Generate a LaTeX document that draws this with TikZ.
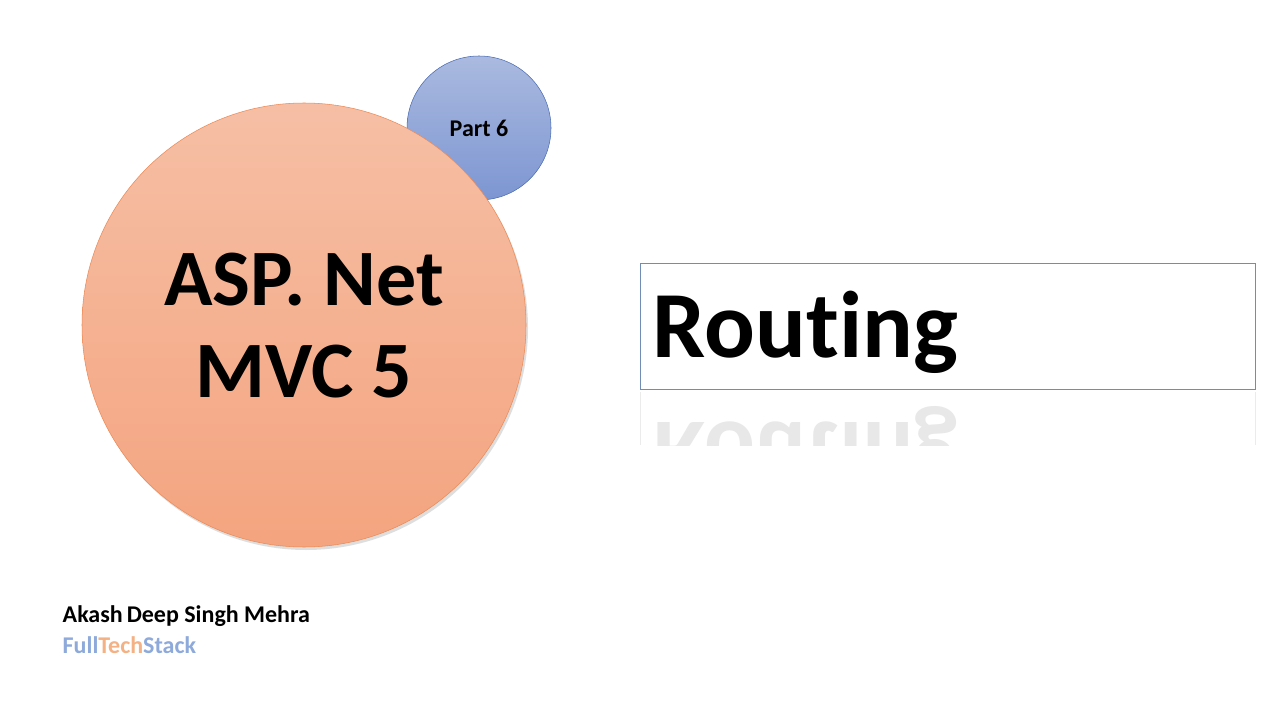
\documentclass[tikz,border=0pt]{standalone}
\usepackage{fontspec}
\setmainfont{Carlito}
\definecolor{peachtop}{HTML}{F6BFA5}
\definecolor{peachbot}{HTML}{F4A47F}
\definecolor{peachline}{HTML}{ED8A55}
\definecolor{bluetop}{HTML}{AABADF}
\definecolor{bluebot}{HTML}{7D96D2}
\definecolor{blueline}{HTML}{4A6CB3}
\definecolor{boxline}{HTML}{6F8DB5}
\definecolor{brandblue}{HTML}{8EAADB}
\definecolor{brandorange}{HTML}{F4B183}
\tikzset{
  titletext/.style={font=\bfseries\fontsize{60}{69}\selectfont},
  smalltext/.style={font=\bfseries\fontsize{18}{22}\selectfont},
}
\begin{document}
\begin{tikzpicture}[x=0.75pt,y=0.75pt,yscale=-1,xscale=1]
\useasboundingbox[fill=white] (0,0) rectangle (1280,720);

%Shape: Small circle
\node (partcircle) [circle, minimum size=108pt, draw=blueline, top color=bluetop, bottom color=bluebot] at (479,128) {};
\node (parttext) [smalltext] at (479,128) {Part 6};

%Shape: Big circle
\fill[black!25, opacity=0.5] (306,328) circle (222);
\node (mvccircle) [circle, minimum size=333pt, draw=peachline, top color=peachtop, bottom color=peachbot] at (304,325) {};
\node (asptext) [titletext] at (304,280) {ASP. Net};
\node (mvctext) [titletext] at (304,372) {MVC 5};

%Shape: Title box
\draw[boxline] (640,263) rectangle (1255,389);
\node (routing) [anchor=base west, font=\bfseries\fontsize{71}{80}\selectfont] at (648,357) {Rout\kern0pt ing};

% Reflection
\begin{scope}
\clip (630,404) rectangle (1260,445);
\node (routingmirror) [anchor=base west, yscale=-1, font=\bfseries\fontsize{71}{80}\selectfont, text=black!9] at (648,422) {Rout\kern0pt ing};
\end{scope}
\draw[black!8] (640,392) -- (640,445) (1255,392) -- (1255,445);

% Text Node
\node (author) [anchor=west, smalltext] at (58,616) {Akash\,Deep Singh Mehra};
\node (brand) [anchor=west, smalltext] at (58,645) {\textcolor{brandblue}{Full}\textcolor{brandorange}{Tech}\textcolor{brandblue}{Stack}};
\end{tikzpicture}
\end{document}
